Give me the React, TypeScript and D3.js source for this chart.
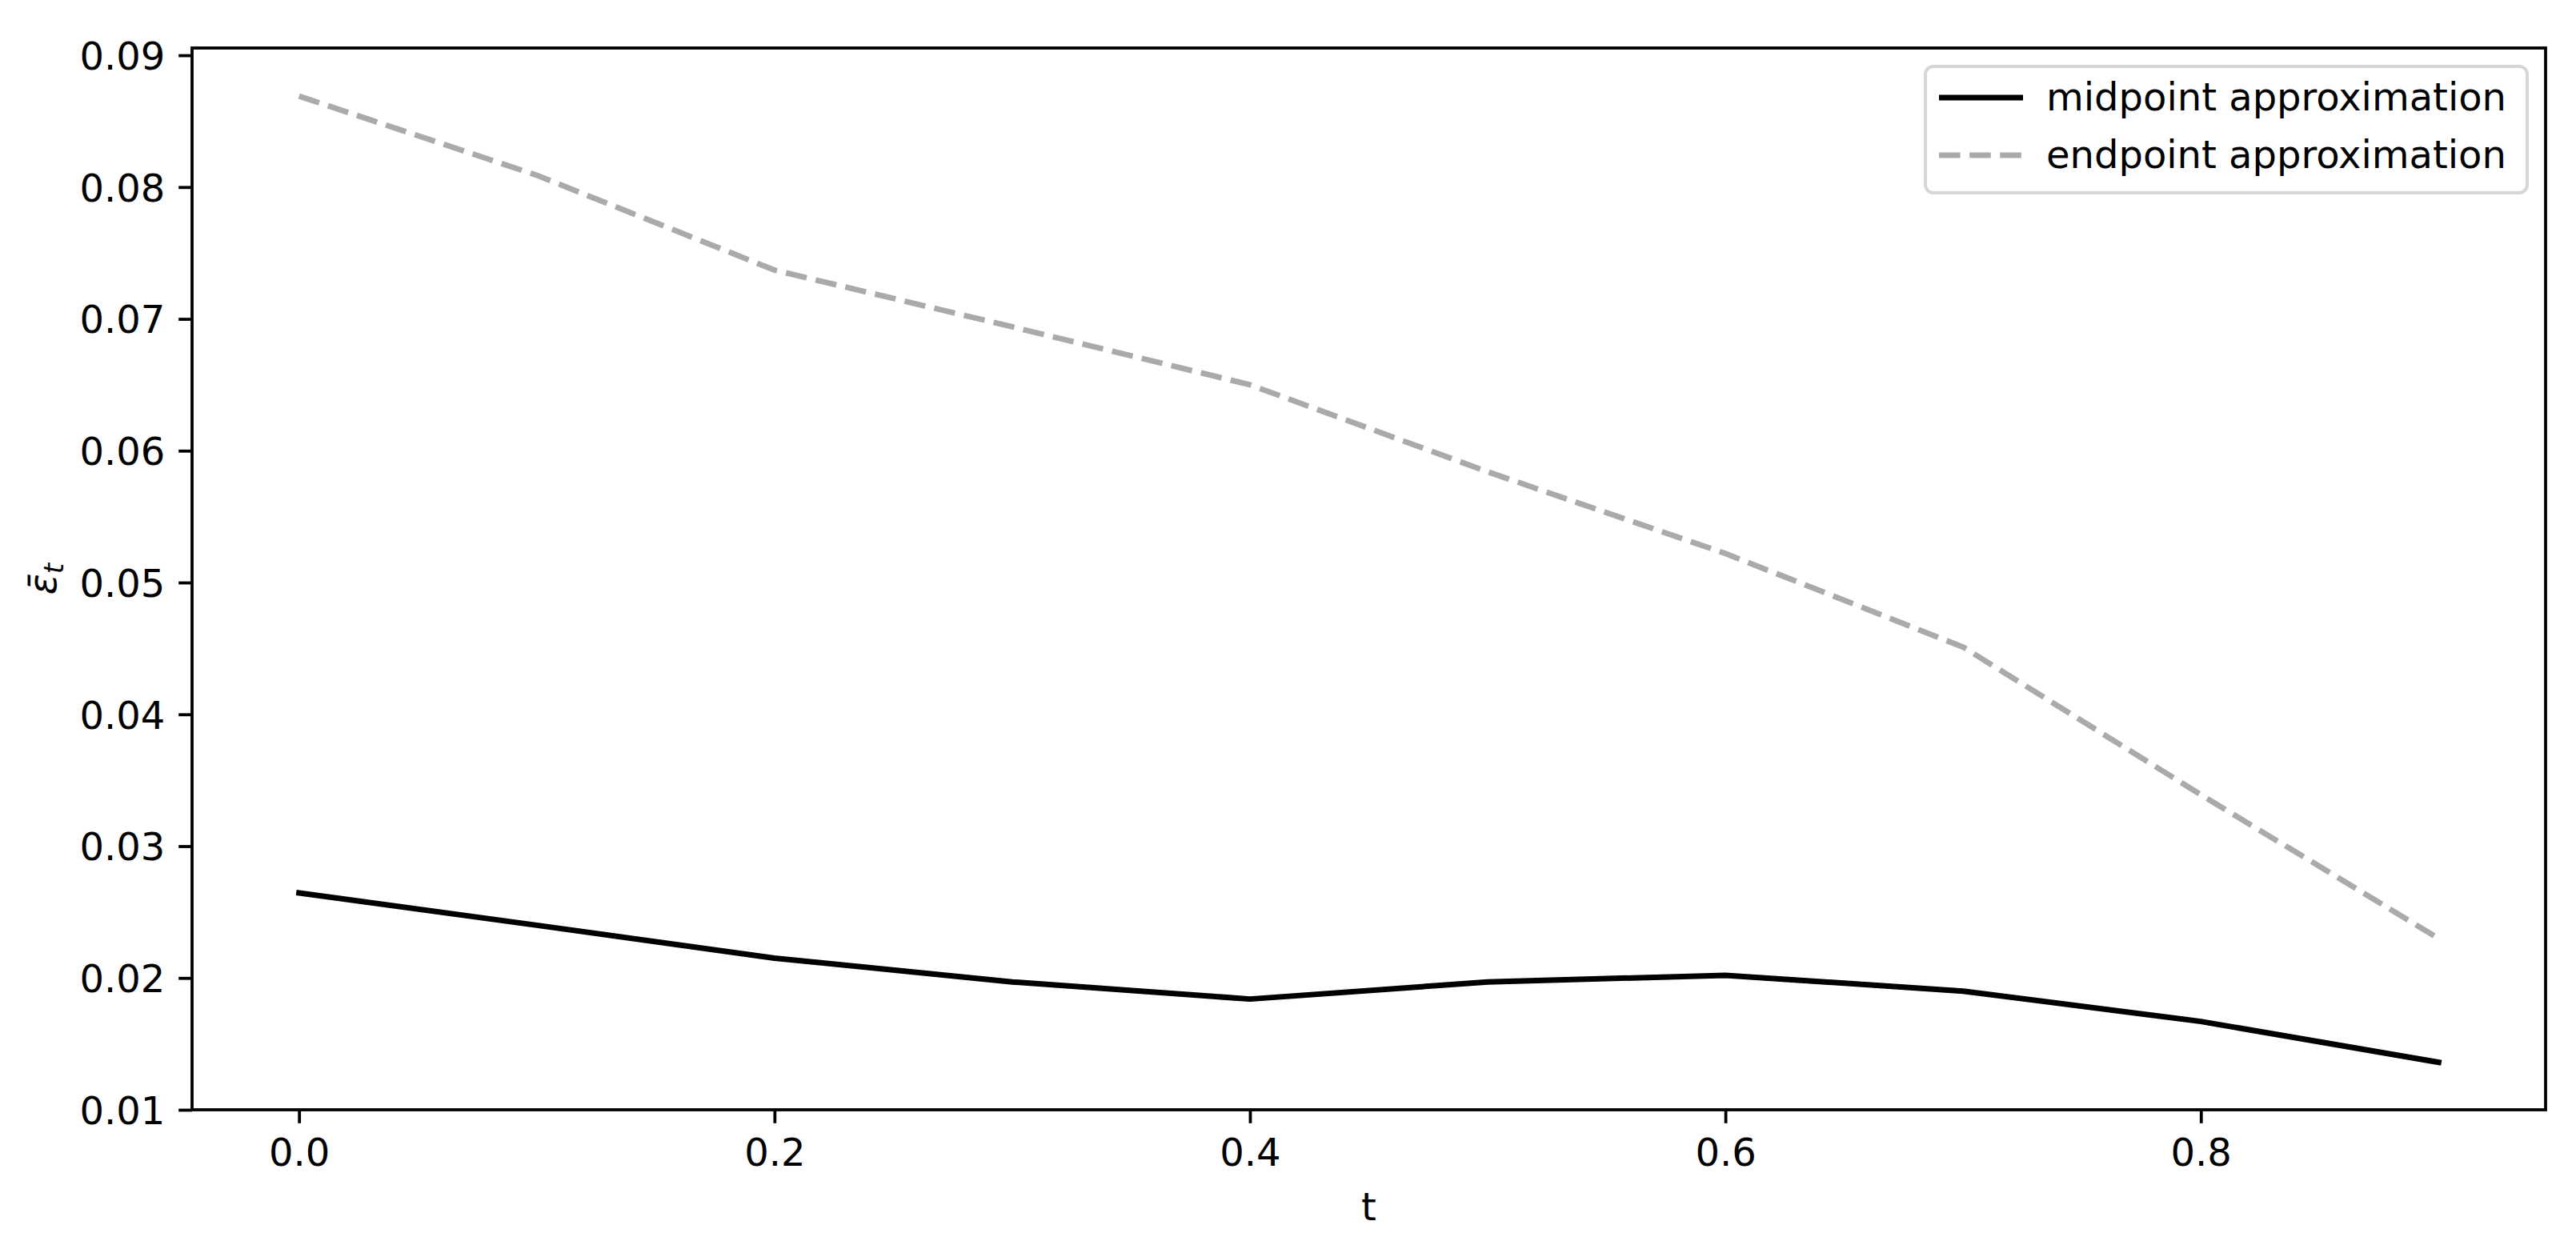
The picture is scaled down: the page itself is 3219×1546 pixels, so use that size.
import React, { useEffect, useRef } from "react";
import * as d3 from "d3";

// values
const tValues = [0.0, 0.1, 0.2, 0.3, 0.4, 0.5, 0.6, 0.7, 0.8, 0.9];
const midpointErr = [0.02645, 0.0240, 0.0215, 0.0197, 0.0184, 0.0197, 0.0202, 0.0190, 0.0167, 0.0136];
const endpointErr = [0.0869, 0.0809, 0.0737, 0.0694, 0.0650, 0.0584, 0.0522, 0.0451, 0.0339, 0.0230];
const xTicks = [0.0, 0.2, 0.4, 0.6, 0.8];
const yTicks = [0.01, 0.02, 0.03, 0.04, 0.05, 0.06, 0.07, 0.08, 0.09];
const seriesNames = ["midpoint approximation", "endpoint approximation"];

const FONT = "DejaVu Sans";

function ErrorChart() {
    const ref = useRef<SVGSVGElement | null>(null);

    useEffect(() => {
        if (!ref.current) return;
        const width = 3219;
        const height = 1546;
        const marginTop = 60;
        const marginRight = 38;
        const marginBottom = 159;
        const marginLeft = 240;
        const fontSize = 48;
        const tickLen = 16.8;
        const tickW = 3.8;

        const svg = d3.select(ref.current);
        svg.selectAll("*").remove();

        const x = d3
            .scaleLinear()
            .domain([-0.045, 0.945])
            .range([marginLeft, width - marginRight]);
        const y = d3
            .scaleLinear()
            .domain([0.01, 0.09055])
            .range([height - marginBottom, marginTop]);

        const line = d3
            .line<number>()
            .x((_, i) => x(tValues[i]))
            .y((d) => y(d));

        // series
        svg.append("path")
            .attr("d", line(midpointErr))
            .attr("fill", "none")
            .attr("stroke", "#000")
            .attr("stroke-width", 7)
            .attr("stroke-linejoin", "round")
            .attr("stroke-linecap", "square");

        svg.append("path")
            .attr("d", line(endpointErr))
            .attr("fill", "none")
            .attr("stroke", "#aaaaaa")
            .attr("stroke-width", 7)
            .attr("stroke-linejoin", "round")
            .attr("stroke-dasharray", "26.6,11.5");

        // axes
        const xAxis = svg
            .append("g")
            .attr("transform", `translate(0,${height - marginBottom})`)
            .call(
                d3
                    .axisBottom(x)
                    .tickValues(xTicks)
                    .tickFormat(d3.format(".1f"))
                    .tickSize(tickLen)
                    .tickPadding(tickLen)
            );
        const yAxis = svg
            .append("g")
            .attr("transform", `translate(${marginLeft},0)`)
            .call(
                d3
                    .axisLeft(y)
                    .tickValues(yTicks)
                    .tickFormat(d3.format(".2f"))
                    .tickSize(tickLen)
                    .tickPadding(tickLen)
            );

        [xAxis, yAxis].forEach((g) => {
            g.select(".domain").remove();
            g.selectAll(".tick line")
                .attr("stroke", "#000")
                .attr("stroke-width", tickW);
            g.selectAll(".tick text")
                .attr("fill", "#000")
                .attr("font-family", FONT)
                .attr("font-size", fontSize);
        });
        xAxis.selectAll(".tick text").attr("dy", "0.76em");
        yAxis.selectAll(".tick text").attr("dy", "0.36em");

        // spines
        svg.append("rect")
            .attr("x", marginLeft)
            .attr("y", marginTop)
            .attr("width", width - marginLeft - marginRight)
            .attr("height", height - marginTop - marginBottom)
            .attr("fill", "none")
            .attr("stroke", "#000")
            .attr("stroke-width", tickW);

        // axis labels
        svg.append("text")
            .attr("x", (marginLeft + width - marginRight) / 2)
            .attr("y", 1525)
            .attr("text-anchor", "middle")
            .attr("font-family", FONT)
            .attr("font-size", fontSize)
            .text("t");

        const yl = svg
            .append("text")
            .attr("transform", `translate(70,${(marginTop + height - marginBottom) / 2}) rotate(-90)`)
            .attr("text-anchor", "middle")
            .attr("font-family", FONT)
            .attr("font-size", fontSize)
            .attr("font-style", "italic");
        yl.append("tspan").text("\u03b5\u0304");
        yl.append("tspan").attr("font-size", 34).attr("dy", 9).text("t");

        // legend
        const lg = svg.append("g");
        lg.append("rect")
            .attr("x", 2406)
            .attr("y", 83)
            .attr("width", 752)
            .attr("height", 158)
            .attr("rx", 10)
            .attr("fill", "#fff")
            .attr("fill-opacity", 0.8)
            .attr("stroke", "#cccccc")
            .attr("stroke-opacity", 0.8)
            .attr("stroke-width", 4);

        const styles = [
            { color: "#000", dash: null as string | null },
            { color: "#aaaaaa", dash: "26.6,11.5" },
        ];
        seriesNames.forEach((name, i) => {
            const cy = 122 + i * 72;
            const l = lg.append("line")
                .attr("x1", 2423)
                .attr("x2", 2528)
                .attr("y1", cy)
                .attr("y2", cy)
                .attr("stroke", styles[i].color)
                .attr("stroke-width", 7);
            if (styles[i].dash) l.attr("stroke-dasharray", styles[i].dash);
            lg.append("text")
                .attr("x", 2557)
                .attr("y", cy + 16)
                .attr("font-family", FONT)
                .attr("font-size", fontSize)
                .attr("fill", "#000")
                .text(name);
        });
    }, []);

    return (
        <svg
            ref={ref}
            width={3219}
            height={1546}
            viewBox="0 0 3219 1546"
            style={{ display: "block", background: "#fff" }}
        />
    );
}

export default function App() {
    return (
        <>
            <style>{`body{margin:0;}`}</style>
            <ErrorChart />
        </>
    );
}
